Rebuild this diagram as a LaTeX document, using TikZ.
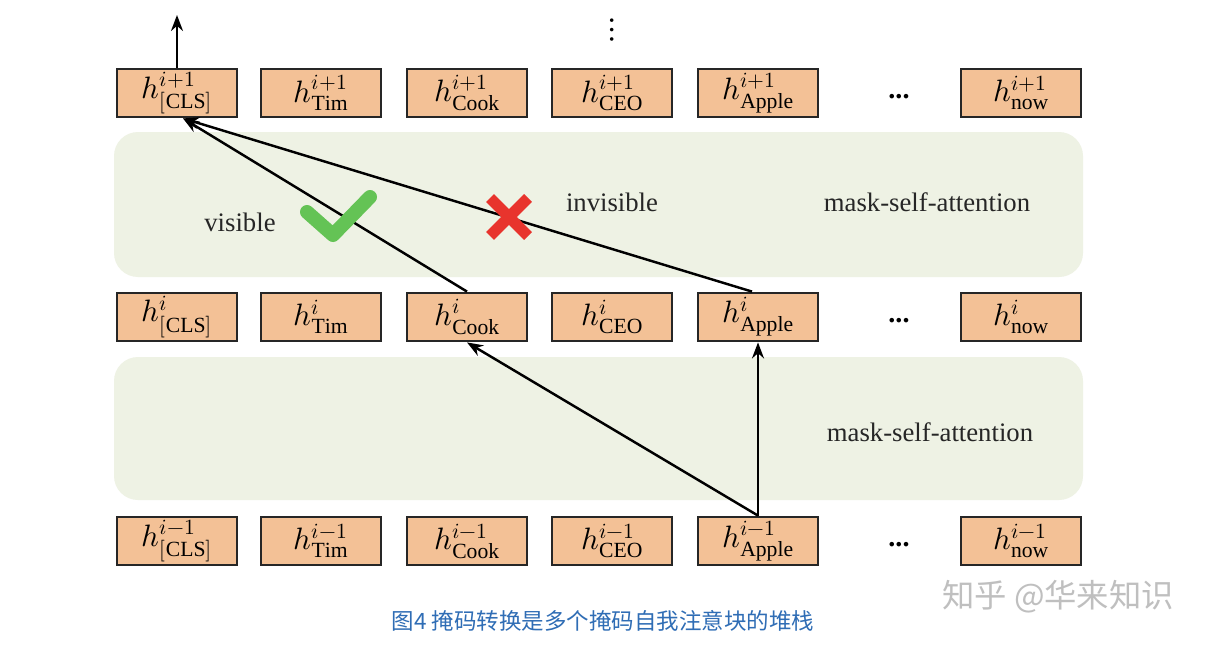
\documentclass[tikz,border=0pt]{standalone}
\usepackage{fontspec}
\usepackage{unicode-math}
\setmainfont{Liberation Serif}
\setmathfont{Latin Modern Math}
\newfontfamily\cjk{Noto Sans CJK SC}
\usetikzlibrary{arrows.meta}
\definecolor{peach}{HTML}{F3C196}
\definecolor{band}{HTML}{EEF2E4}
\definecolor{capblue}{HTML}{2F6DB5}
\begin{document}
\begin{tikzpicture}[x=0.5mm,y=-0.5mm,
  tok/.style={draw=black!85,line width=4pt,fill=peach,minimum width=60mm,minimum height=24mm,inner sep=0pt,font=\fontsize{44}{50}\selectfont},
  bandbox/.style={fill=band,rounded corners=12mm,draw=none},
  arr/.style={-{Stealth[length=8mm,width=6mm]},line width=3.5pt},
  lbl/.style={font=\fontsize{38}{44}\selectfont,text=black!85}]
\useasboundingbox (0,0) rectangle (1220,646);
\fill[white] (0,0) rectangle (1220,646);
\path[bandbox] (114,132) rectangle (1083,277);
\path[bandbox] (114,357) rectangle (1083,500);
\foreach \r/\y/\s in {t/93/i+1, m/317/i, b/541/i-1}{
  \node[tok] (\r1) at (177,\y) {$h^{\s}_{\mathrm{[CLS]}}$};
  \node[tok] (\r2) at (321,\y) {$h^{\s}_{\mathrm{Tim}}$};
  \node[tok] (\r3) at (467,\y) {$h^{\s}_{\mathrm{Cook}}$};
  \node[tok] (\r4) at (612,\y) {$h^{\s}_{\mathrm{CEO}}$};
  \node[tok] (\r5) at (758,\y) {$h^{\s}_{\mathrm{Apple}}$};
  \node[tok] (\r7) at (1021,\y) {$h^{\s}_{\mathrm{now}}$};
  \node[font=\fontsize{40}{48}\selectfont\bfseries] (\r6) at (899,\y+4) {...};
}
\node[font=\fontsize{48}{50}\selectfont\bfseries,inner sep=0pt] (vd) at (612,30) {$\boldsymbol{\vdots}$};
\coordinate (up) at (177,15);
\draw[arr] (t1.north) -- (up);
\draw[arr] (m3.north) -- ([xshift=3mm]t1.south);
\draw[arr] ([xshift=-3mm]m5.north) -- ([xshift=3mm]t1.south);
\draw[arr] (b5.north) -- (m3.south);
\draw[arr] (b5.north) -- (m5.south);
\draw[color={rgb,255:red,100;green,195;blue,85},line width=7mm,line cap=round,line join=round] (307,212) -- (333,235) -- (370,197);
\draw[color={rgb,255:red,232;green,52;blue,45},line width=5.5mm] (490,198) -- (528,236) (528,198) -- (490,236);
\node[lbl] (vis) at (240,222) {visible};
\node[lbl] (inv) at (612,202) {invisible};
\node[lbl] (ms1) at (927,202) {mask-self-attention};
\node[lbl] (ms2) at (930,432) {mask-self-attention};
\node[font=\cjk\fontsize{32}{36}\selectfont,text=capblue] (cap) at (603,621) {图4 掩码转换是多个掩码自我注意块的堆栈};
\node[font=\cjk\fontsize{46}{52}\selectfont,text=black!25] (wm) at (1058,597) {知乎 @华来知识};
\end{tikzpicture}
\end{document}
